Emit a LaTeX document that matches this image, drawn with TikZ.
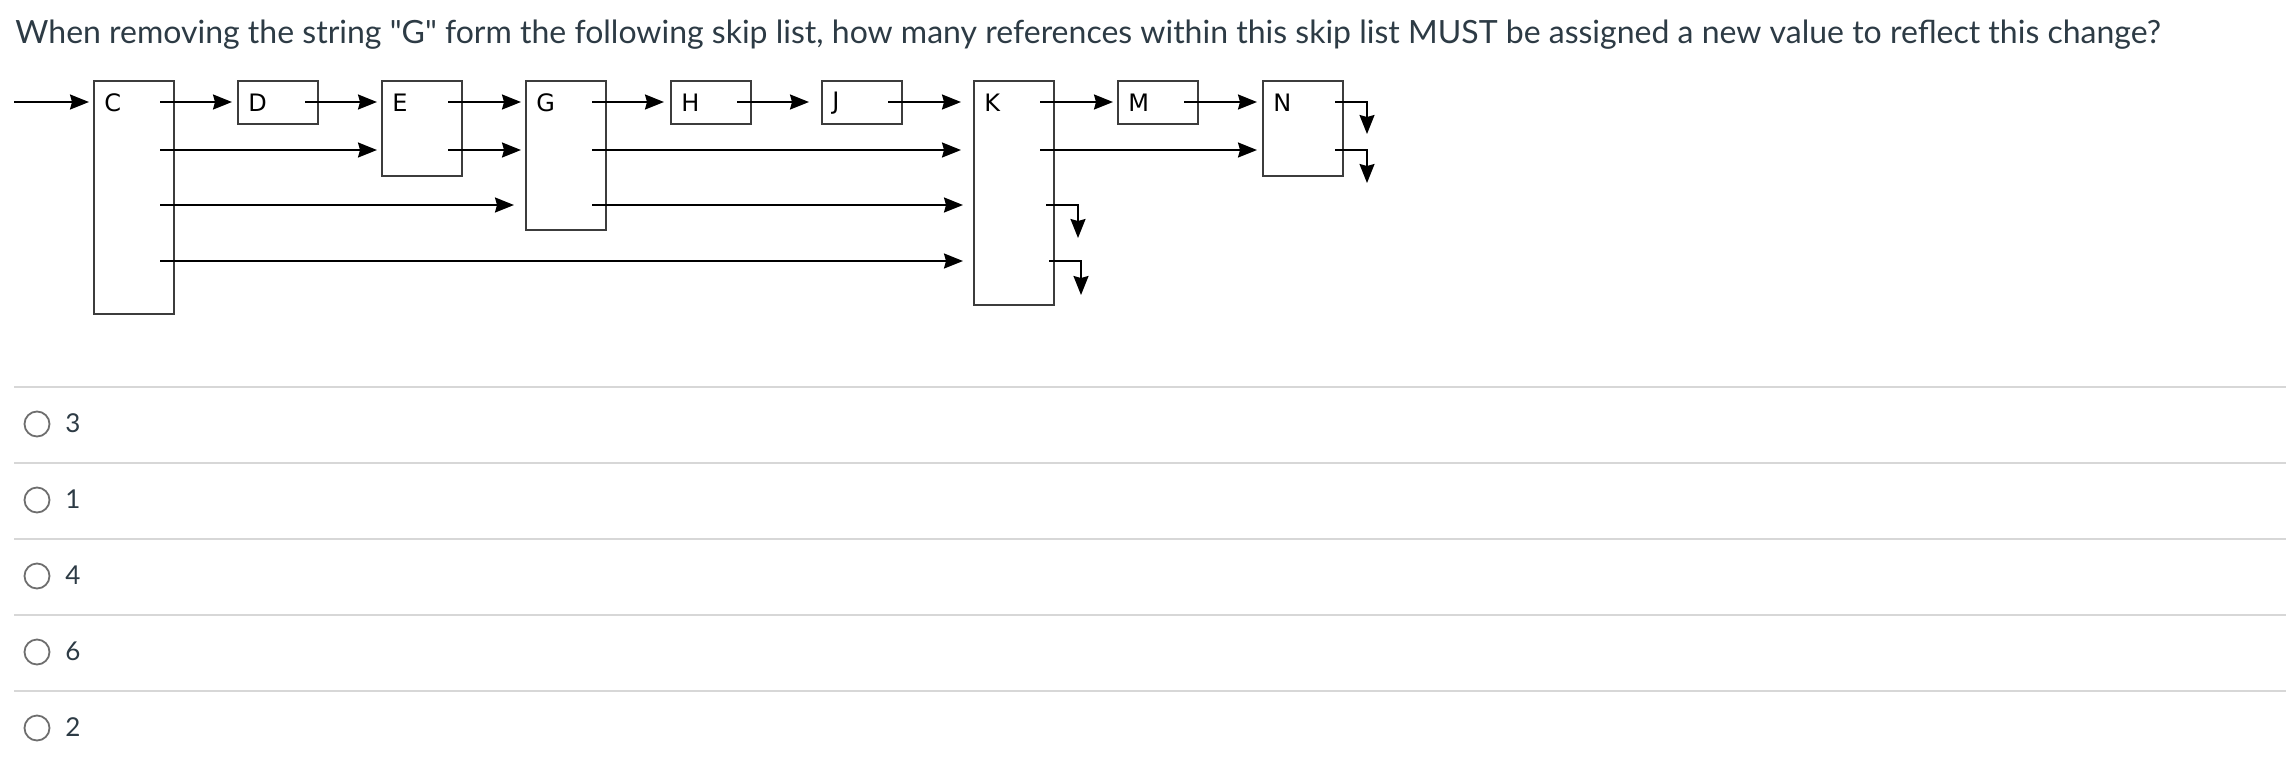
\documentclass[tikz,border=0pt]{standalone}
\usepackage{fontspec}
\usetikzlibrary{arrows.meta,calc}
\newfontfamily\latofont{Lato}
\newfontfamily\dvfont{DejaVu Sans}
\definecolor{qtext}{HTML}{2D3B45}
\definecolor{boxline}{HTML}{3C3C3C}
\definecolor{sepcol}{HTML}{D7D7D7}
\definecolor{radiocol}{HTML}{6E6E6E}
\begin{document}
\begin{tikzpicture}[x=0.5pt,y=-0.5pt,
  box/.style={draw=boxline,line width=1pt,anchor=north west,inner sep=0pt,minimum width=40pt},
  lbl/.style={anchor=west,inner sep=0pt,font=\dvfont\fontsize{12}{14}\selectfont},
  ptr/.style={draw=black,line width=0.9pt,-{Stealth[length=9.5pt,width=7.5pt,inset=1pt]}},
  sepline/.style={draw=sepcol,line width=1pt},
  radiobtn/.style={draw=radiocol,line width=0.9pt,circle,minimum size=12.5pt,inner sep=0pt},
  digit/.style={anchor=base west,inner sep=0pt,text=qtext,font=\latofont\fontsize{13}{15}\selectfont},
  question/.style={anchor=base west,inner sep=0pt,text=qtext,font=\latofont\fontsize{16}{19}\selectfont}]
\fill[white] (0,0) rectangle (2286,772);
\useasboundingbox (0,0) rectangle (2286,772);

\node[question] (q) at (15,43) {When removing the string "G" form the following skip list, how many references within this skip list MUST be assigned a new value to reflect this change?};

% rows
\coordinate (r1) at (0,102);
\coordinate (r2) at (0,150);
\coordinate (r3) at (0,205);
\coordinate (r4) at (0,261);
\coordinate (in) at (14,102);

% boxes
\node[box,minimum height=116.5pt] (C) at (93,80) {};
\node[box,minimum height=21.5pt] (D) at (237,80) {};
\node[box,minimum height=47.5pt] (E) at (381,80) {};
\node[box,minimum height=74.5pt] (G) at (525,80) {};
\node[box,minimum height=21.5pt] (H) at (670,80) {};
\node[box,minimum height=21.5pt] (J) at (821,80) {};
\node[box,minimum height=112pt] (K) at (973,80) {};
\node[box,minimum height=21.5pt] (M) at (1117,80) {};
\node[box,minimum height=47.5pt] (N) at (1262,80) {};

% labels
\node[lbl] (Cl) at (104,103) {C};
\node[lbl] (Dl) at (248,103) {D};
\node[lbl] (El) at (392,103) {E};
\node[lbl] (Gl) at (536,103) {G};
\node[lbl] (Hl) at (681,103) {H};
\node[lbl] (Jl) at (832,103) {J};
\node[lbl] (Kl) at (984,103) {K};
\node[lbl] (Ml) at (1128,103) {M};
\node[lbl] (Nl) at (1273,103) {N};

% pointers
\draw[ptr] (in) -- ([xshift=-2pt]C.west |- r1);
\draw[ptr] ([xshift=-7.5pt]C.east |- r1) -- ([xshift=-2.5pt]D.west |- r1);
\draw[ptr] ([xshift=-7.5pt]C.east |- r2) -- ([xshift=-2pt]E.west |- r2);
\draw[ptr] ([xshift=-7.5pt]C.east |- r3) -- ([xshift=-5.5pt]G.west |- r3);
\draw[ptr] ([xshift=-7.5pt]C.east |- r4) -- ([xshift=-5pt]K.west |- r4);
\draw[ptr] ([xshift=-7pt]D.east |- r1) -- ([xshift=-2pt]E.west |- r1);
\draw[ptr] ([xshift=-7.5pt]E.east |- r1) -- ([xshift=-2pt]G.west |- r1);
\draw[ptr] ([xshift=-7.5pt]E.east |- r2) -- ([xshift=-2pt]G.west |- r2);
\draw[ptr] ([xshift=-7.5pt]G.east |- r1) -- ([xshift=-3pt]H.west |- r1);
\draw[ptr] ([xshift=-7.5pt]G.east |- r2) -- ([xshift=-6pt]K.west |- r2);
\draw[ptr] ([xshift=-7.5pt]G.east |- r3) -- ([xshift=-5pt]K.west |- r3);
\draw[ptr] ([xshift=-7.5pt]H.east |- r1) -- ([xshift=-6pt]J.west |- r1);
\draw[ptr] ([xshift=-7.5pt]J.east |- r1) -- ([xshift=-6pt]K.west |- r1);
\draw[ptr] ([xshift=-7.5pt]K.east |- r1) -- ([xshift=-2pt]M.west |- r1);
\draw[ptr] ([xshift=-7.5pt]K.east |- r2) -- ([xshift=-2.5pt]N.west |- r2);
\draw[ptr] ([xshift=-7.5pt]M.east |- r1) -- ([xshift=-2.5pt]N.west |- r1);
\draw[ptr] ([xshift=-4.5pt]K.east |- r3) -| ($(K.east |- r3)+(23,33)$);
\draw[ptr] ([xshift=-3pt]K.east |- r4) -| ($(K.east |- r4)+(26,34)$);
\draw[ptr] ([xshift=-4.5pt]N.east |- r1) -| ($(N.east |- r1)+(23,32)$);
\draw[ptr] ([xshift=-4.5pt]N.east |- r2) -| ($(N.east |- r2)+(23,33)$);

% answer options
\foreach \i/\d in {0/3,1/1,2/4,3/6,4/2}{
  \draw[sepline] (14,{387+76*\i}) -- (2286,{387+76*\i});
  \node[radiobtn] (rad\i) at (37,{424+76*\i}) {};
  \node[digit] (num\i) at (65,{432+76*\i}) {\d};
}
\end{tikzpicture}
\end{document}
